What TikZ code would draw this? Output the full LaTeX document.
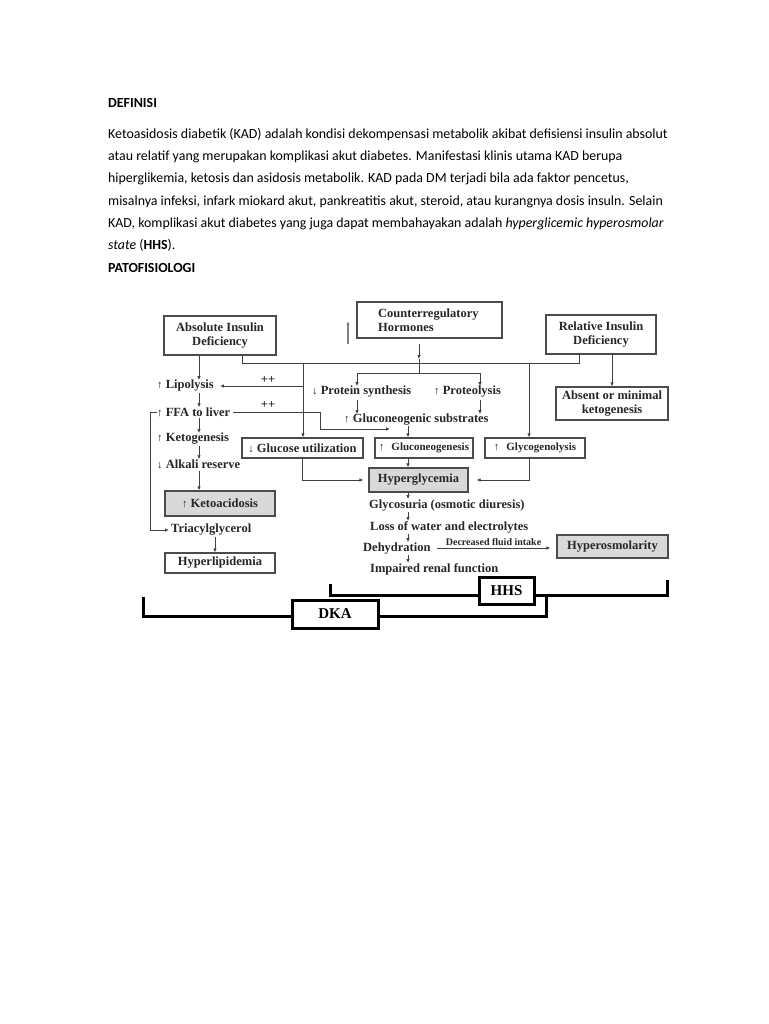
\documentclass[tikz,border=0pt]{standalone}
\usepackage{fontspec}
\setmainfont{Carlito}
\newfontfamily\dgfont{Liberation Serif}
\usetikzlibrary{calc,arrows.meta}
\newcommand{\upa}{{\fontsize{11}{11}\selectfont ↑}}
\newcommand{\dna}{{\fontsize{11}{11}\selectfont ↓}}
\begin{document}
\begin{tikzpicture}[x=1pt,y=-1pt,
  body/.style={anchor=base west, inner sep=0pt, font=\fontsize{13.9}{16}\selectfont},
  dg/.style={inner sep=0pt, text=black!85, font=\dgfont\bfseries\fontsize{12.5}{14}\selectfont},
  dgs/.style={font=\dgfont\bfseries\fontsize{11}{12}\selectfont},
  box/.style={draw=black!70, line width=1.3pt, inner sep=0pt, align=center, text=black!85, font=\dgfont\bfseries\fontsize{12.5}{14}\selectfont},
  gbox/.style={box, fill=black!15},
  ln/.style={draw=black!75, line width=1pt},
  ar/.style={ln, -{Latex[length=4pt,width=3.5pt]}},
  br/.style={draw=black, line width=3pt},
  bbox/.style={draw=black, line width=3pt, fill=white, inner sep=0pt, font=\dgfont\bfseries\fontsize{15}{16}\selectfont}
]
\useasboundingbox (0,0) rectangle (768,1024);
\fill[white] (0,0) rectangle (768,1024);

% ---------- text ----------
\node[body, font=\bfseries\fontsize{13.9}{16}\selectfont] (def) at (108,107.5) {DEFINISI};
\node[body] (l1) at (108,138.5) {Ketoasidosis diabetik (KAD) adalah kondisi dekompensasi metabolik akibat defisiensi insulin absolut};
\node[body] (l2) at (108,160.7) {atau relatif yang merupakan komplikasi akut diabetes. Manifestasi klinis utama KAD berupa};
\node[body] (l3) at (108,182.9) {hiperglikemia, ketosis dan asidosis metabolik. KAD pada DM terjadi bila ada faktor pencetus,};
\node[body] (l4) at (108,205.1) {misalnya infeksi, infark miokard akut, pankreatitis akut, steroid, atau kurangnya dosis insuln. Selain};
\node[body] (l5) at (108,227.3) {KAD, komplikasi akut diabetes yang juga dapat membahayakan adalah \textit{hyperglicemic hyperosmolar}};
\node[body] (l6) at (108,249.5) {\textit{state} (\textbf{HHS}).};
\node[body, font=\bfseries\fontsize{13.9}{16}\selectfont] (pat) at (108,272.5) {PATOFISIOLOGI};

% ---------- top boxes ----------
\node[box, minimum width=112, minimum height=39] (abs) at (220,335.5) {Absolute Insulin\\Deficiency};
\node[box, minimum width=145, minimum height=36] (ctr) at (429.5,320) {};
\node[dg, anchor=west, align=left] (ctrt) at (378,320) {Counterregulatory\\Hormones};
\node[box, minimum width=110, minimum height=39] (rel) at (601,334.5) {Relative Insulin\\Deficiency};
\node[box, minimum width=112, minimum height=33] (abk) at (612,403.5) {Absent or minimal\\ketogenesis};
\coordinate (ga) at (348,344);
\coordinate (gb) at (348,321);
\draw[draw=black!50, line width=1.2pt, -{Latex[length=4pt,width=3.5pt]}] (ga) -- (gb);

% ---------- left column ----------
\node[dg, anchor=west] (lip) at (157,386) {\upa\ Lipolysis};
\node[dg, anchor=west] (ffa) at (157,412) {\upa\ FFA to liver};
\node[dg, anchor=west] (ket) at (157,439) {\upa\ Ketogenesis};
\node[dg, anchor=west] (alk) at (157,464) {\dna\ Alkali reserve};
\node[gbox, minimum width=110, minimum height=25] (kac) at (220,503.5) {\upa\ Ketoacidosis};
\node[dg, anchor=west] (tri) at (171,530) {Triacylglycerol};
\node[box, minimum width=110, minimum height=20] (hlp) at (220,563) {Hyperlipidemia};

% ---------- middle ----------
\node[dg, anchor=west] (psy) at (312,392) {\dna\ Protein synthesis};
\node[dg, anchor=west] (pro) at (434,392) {\upa\ Proteolysis};
\node[dg, anchor=west] (gsub) at (344,420) {\upa\ Gluconeogenic substrates};
\node[box, minimum width=121, minimum height=20] (glu) at (302.5,448) {\dna\ Glucose utilization};
\node[box, dgs, minimum width=98, minimum height=20] (gng) at (424,448) {\upa\hspace{7pt}Gluconeogenesis};
\node[box, dgs, minimum width=100, minimum height=20] (gly) at (535,448) {\upa\hspace{7pt}Glycogenolysis};
\node[gbox, minimum width=99, minimum height=24] (hyp) at (418.5,480) {Hyperglycemia};

% ---------- right chain ----------
\node[dg, anchor=base west] (gcs) at (369,508) {Glycosuria (osmotic diuresis)};
\node[dg, anchor=base west] (low) at (370,530) {Loss of water and electrolytes};
\node[dg, anchor=base west] (deh) at (363,551) {Dehydration};
\node[dg, anchor=base west] (irf) at (370,572) {Impaired renal function};
\node[gbox, minimum width=111, minimum height=23] (hos) at (612.5,546.5) {Hyperosmolarity};

% ---------- coordinates ----------
\coordinate (cl) at (199,0);
\coordinate (ct) at (215,0);
\coordinate (ca) at (242,0);
\coordinate (cg) at (303,0);
\coordinate (cp) at (357,0);
\coordinate (cs) at (408,0);
\coordinate (cq) at (480,0);
\coordinate (cy) at (529,0);
\coordinate (cr) at (579,0);
\coordinate (hy) at (0,363);
\coordinate (cb) at (419,373);
\coordinate (cb2) at (419,359);
\coordinate (fk) at (320,429);
\coordinate (fe) at (390,429);

% ---------- connectors ----------
\draw[ln] (abs.south -| ca) -- (ca |- hy) -- (cr |- hy) -- (rel.south -| cr);
\draw[ar, shorten <=5pt] (ctr.south -| cb) -- (cb2);
\draw[ln] (cb2) -- (cb);
\draw[ln] (cb -| cp) -- (cb -| cq);
\draw[ar] (cb -| cp) -- (psy.north -| cp);
\draw[ar] (cb -| cq) -- (pro.north -| cq);
\draw[ar, shorten <=2pt] (psy.south -| cp) -- (gsub.north -| cp);
\draw[ar, shorten <=2pt] (pro.south -| cq) -- (gsub.north -| cq);
\draw[ar] (cg |- hy) -- (cg |- glu.north);
\draw[ar, shorten >=6pt] (cg |- lip.east) -- (lip.east);
\node[dg] (pp1) at (268,380) {++};
\draw[ar, shorten <=3pt] (ffa.east) -| (fk) -- (fe);
\node[dg] (pp2) at (268,405) {++};
\draw[ar] (cy |- hy) -- (cy |- gly.north);
\draw[ar] (rel.south -| abk.north) -- (abk.north);

\draw[ar] (abs.south -| cl) -- (lip.north -| cl);
\draw[ar, shorten <=1pt] (lip.south -| cl) -- (ffa.north -| cl);
\draw[ar, shorten <=1pt] (ffa.south -| cl) -- (ket.north -| cl);
\draw[ar, shorten <=1pt] (ket.south -| cl) -- (alk.north -| cl);
\draw[ar, shorten <=2pt] (alk.south -| cl) -- (kac.north -| cl);
\draw[ar, shorten >=2pt] (ffa.west) -- ++(-7,0) |- (tri.west);
\draw[ar, shorten <=1pt] (tri.south -| ct) -- (hlp.north -| ct);

\draw[ar] (gsub.south -| cs) -- (gng.north -| cs);
\draw[ar] (gng.south -| cs) -- (hyp.north -| cs);
\draw[ar, shorten >=5pt] (glu.south) |- (hyp.west);
\draw[ar, shorten >=8pt] (gly.south -| cy) |- (hyp.east);

\draw[ar] (hyp.south -| cs) -- (gcs.north -| cs);
\draw[ar, shorten <=1pt] (gcs.south -| cs) -- (low.north -| cs);
\draw[ar, shorten <=1pt] (low.south -| cs) -- (deh.north -| cs);
\draw[ar, shorten <=1pt] (deh.south -| cs) -- (irf.north -| cs);
\draw[ar, shorten <=6pt, shorten >=6pt] (deh.east) -- (hos.west |- deh.east)
  node[midway, above=1.5pt, inner sep=0pt, text=black!85, font=\dgfont\bfseries\fontsize{10}{11}\selectfont] {Decreased fluid intake};

% ---------- brackets ----------
\coordinate (hl) at (0,595);
\coordinate (h1) at (330,584);
\coordinate (h2) at (667,580);
\coordinate (dl) at (0,616);
\coordinate (d1) at (143,597);
\coordinate (d2) at (546,597);
\node[bbox, minimum width=55, minimum height=27] (hhs) at (506.5,590.5) {HHS};
\node[bbox, minimum width=86, minimum height=28] (dka) at (335,614) {DKA};
\draw[br] (h1) |- (hhs.west |- hl);
\draw[br] (hhs.east |- hl) -| (h2);
\draw[br] (d1) |- (dka.west |- dl);
\draw[br] (dka.east |- dl) -| (d2);
\end{tikzpicture}
\end{document}
